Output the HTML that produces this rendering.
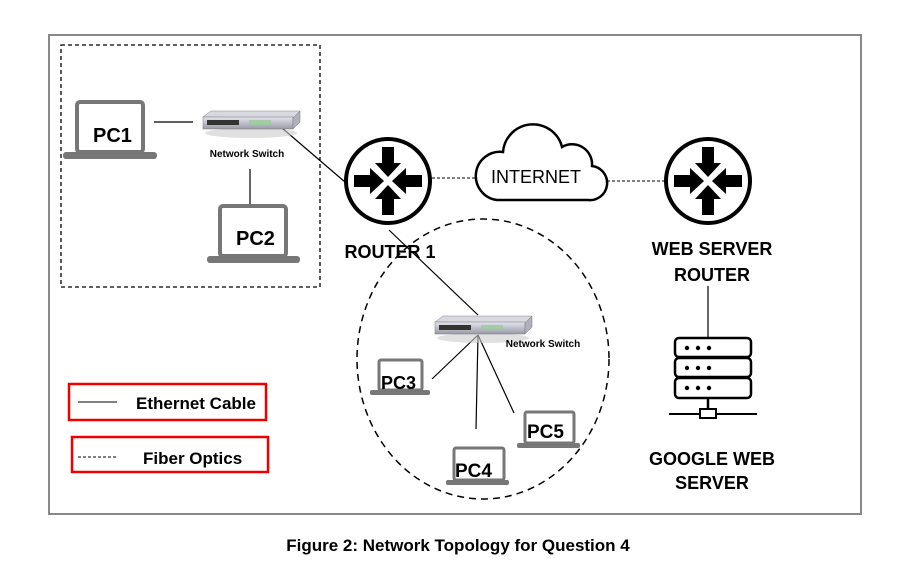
<!DOCTYPE html>
<html><head><style>
body{margin:0;background:#fff;}
svg text{font-family:"Liberation Sans",Arial,sans-serif;font-weight:bold;}
</style></head><body>
<svg width="897" height="578" viewBox="0 0 897 578" xmlns="http://www.w3.org/2000/svg">
<defs>
<g id="rt">
 <circle cx="0" cy="0" r="42" fill="#fff" stroke="#000" stroke-width="4"/>
 <path d="M-6,-34 H6 V-18 H13 L0,-4 L-13,-18 H-6 Z" fill="#000"/>
 <path d="M-6,34 H6 V18 H13 L0,4 L-13,18 H-6 Z" fill="#000"/>
 <path d="M-34,-6 V6 H-18 V13 L-4,0 L-18,-13 V-6 Z" fill="#000"/>
 <path d="M34,-6 V6 H18 V13 L4,0 L18,-13 V-6 Z" fill="#000"/>
</g>
<linearGradient id="sw" x1="0" y1="0" x2="0" y2="1"><stop offset="0" stop-color="#e4e4ee"/><stop offset="1" stop-color="#9a9aa8"/></linearGradient>
<g id="switch">
 <ellipse cx="48" cy="22" rx="46" ry="5" fill="#ccc" opacity="0.6"/>
 <path d="M0,6 L8,0 H97 L90,7 Z" fill="#d8d8e0" stroke="#888" stroke-width="0.5"/>
 <rect x="0" y="6" width="90" height="12" fill="url(#sw)" stroke="#777" stroke-width="0.5"/>
 <path d="M90,7 L97,0 V11 L90,18 Z" fill="#b0b0bc" stroke="#777" stroke-width="0.5"/>
 <rect x="4" y="9" width="32" height="5" fill="#333"/>
 <rect x="46" y="9" width="22" height="5" fill="#9c9" opacity="0.8"/>
</g>
</defs>

<rect x="49" y="35" width="812" height="479" fill="none" stroke="#888" stroke-width="2"/>
<rect x="61" y="45" width="259" height="242" fill="none" stroke="#000" stroke-width="1.3" stroke-dasharray="4,3"/>

<line x1="154" y1="122" x2="193" y2="122" stroke="#000" stroke-width="1.2"/>
<line x1="250" y1="169" x2="250" y2="207" stroke="#000" stroke-width="1.2"/>
<line x1="282" y1="128" x2="345" y2="182" stroke="#000" stroke-width="1.2"/>
<line x1="389" y1="230" x2="478" y2="315" stroke="#000" stroke-width="1.2"/>
<line x1="432" y1="178" x2="478" y2="178" stroke="#000" stroke-width="1" stroke-dasharray="3,2"/>
<line x1="607" y1="181" x2="664" y2="181" stroke="#000" stroke-width="1" stroke-dasharray="3,2"/>
<line x1="478" y1="335" x2="432" y2="379" stroke="#000" stroke-width="1.2"/>
<line x1="478" y1="335" x2="476" y2="429" stroke="#000" stroke-width="1.2"/>
<line x1="478" y1="335" x2="514" y2="413" stroke="#000" stroke-width="1.2"/>
<line x1="708" y1="286" x2="708" y2="337" stroke="#000" stroke-width="1.2"/>

<ellipse cx="483" cy="359" rx="126" ry="140" fill="none" stroke="#000" stroke-width="1.5" stroke-dasharray="7,5"/>

<g fill="none" stroke="#777">
 <rect x="77" y="102" width="66" height="50" rx="3" stroke-width="4"/>
 <rect x="220" y="206" width="66" height="50" rx="3" stroke-width="4"/>
 <rect x="379" y="360" width="43" height="30" rx="2" stroke-width="3"/>
 <rect x="454" y="448" width="50" height="32" rx="2" stroke-width="3"/>
 <rect x="525" y="412" width="49" height="31" rx="2" stroke-width="3"/>
</g>
<g fill="#777">
 <rect x="63" y="152" width="94" height="7" rx="3"/>
 <rect x="207" y="256" width="93" height="7" rx="3"/>
 <rect x="370" y="390" width="60" height="5" rx="2"/>
 <rect x="446" y="480" width="63" height="5" rx="2"/>
 <rect x="517" y="443" width="63" height="5" rx="2"/>
</g>
<g font-size="20" fill="#000">
 <text x="93" y="142">PC1</text>
 <text x="236" y="245">PC2</text>
 <text x="381" y="389" font-size="18">PC3</text>
 <text x="455" y="477" font-size="19">PC4</text>
 <text x="527" y="438" font-size="19">PC5</text>
</g>

<use href="#switch" x="203" y="111"/>
<text x="247" y="157" font-size="10" text-anchor="middle">Network Switch</text>
<use href="#switch" x="435" y="316"/>
<text x="543" y="347" font-size="10" text-anchor="middle">Network Switch</text>

<use href="#rt" x="388" y="181"/>
<use href="#rt" x="708" y="181"/>
<text x="390" y="258" font-size="18" text-anchor="middle">ROUTER 1</text>
<text x="712" y="255" font-size="18" text-anchor="middle">WEB SERVER</text>
<text x="712" y="281" font-size="18" text-anchor="middle">ROUTER</text>

<path d="M497,200 H588 A17,17 0 0 0 592,166 A20,20 0 0 0 562,147 A30,30 0 0 0 503,152 A24,24 0 0 0 497,200 Z" fill="#fff" stroke="#000" stroke-width="2.5"/>
<text x="536" y="183" font-size="18" text-anchor="middle" style="font-weight:normal">INTERNET</text>

<g fill="#fff" stroke="#000" stroke-width="2.5">
 <rect x="675" y="338" width="76" height="19" rx="4"/>
 <rect x="675" y="358" width="76" height="19" rx="4"/>
 <rect x="675" y="378" width="76" height="20" rx="4"/>
</g>
<g fill="#000">
 <circle cx="687" cy="348" r="2.2"/><circle cx="698" cy="348" r="2.2"/><circle cx="709" cy="348" r="2.2"/>
 <circle cx="687" cy="368" r="2.2"/><circle cx="698" cy="368" r="2.2"/><circle cx="709" cy="368" r="2.2"/>
 <circle cx="687" cy="388" r="2.2"/><circle cx="698" cy="388" r="2.2"/><circle cx="709" cy="388" r="2.2"/>
</g>
<line x1="708" y1="398" x2="708" y2="409" stroke="#000" stroke-width="2.5"/>
<line x1="669" y1="414" x2="757" y2="414" stroke="#000" stroke-width="2"/>
<rect x="700" y="409" width="16" height="9" fill="#fff" stroke="#000" stroke-width="2"/>
<text x="712" y="465" font-size="18" text-anchor="middle">GOOGLE WEB</text>
<text x="712" y="489" font-size="18" text-anchor="middle">SERVER</text>

<rect x="69" y="384" width="197" height="36" fill="none" stroke="#e00" stroke-width="2.5"/>
<line x1="78" y1="402" x2="117" y2="402" stroke="#000" stroke-width="1"/>
<text x="136" y="409" font-size="17">Ethernet Cable</text>
<rect x="72" y="437" width="196" height="35" fill="none" stroke="#e00" stroke-width="2.5"/>
<line x1="78" y1="457" x2="118" y2="457" stroke="#000" stroke-width="1" stroke-dasharray="3,2"/>
<text x="143" y="464" font-size="17">Fiber Optics</text>

<text x="458" y="551" font-size="17" text-anchor="middle">Figure 2: Network Topology for Question 4</text>
</svg>
</body></html>
